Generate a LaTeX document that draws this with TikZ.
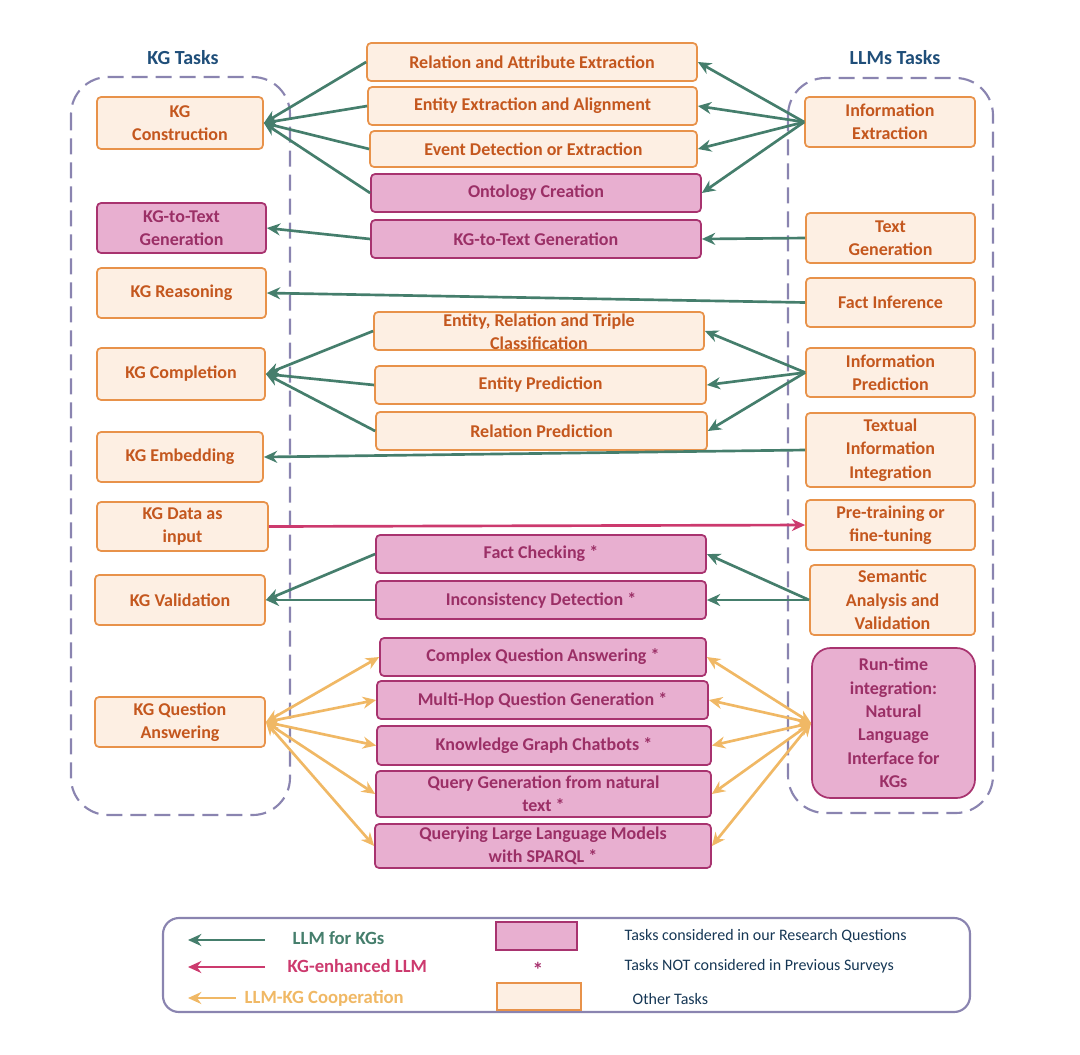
\documentclass[tikz,border=0pt]{standalone}
\usepackage{fontspec}
\setmainfont{Carlito}
\usetikzlibrary{arrows.meta}
\definecolor{oB}{HTML}{E8924A}
\definecolor{oF}{HTML}{FDEFE3}
\definecolor{oT}{HTML}{C4571E}
\definecolor{pB}{HTML}{A8336F}
\definecolor{pF}{HTML}{E8AFD0}
\definecolor{pT}{HTML}{9B2F66}
\definecolor{gA}{HTML}{457E6C}
\definecolor{mA}{HTML}{CC3A6E}
\definecolor{yA}{HTML}{F0B865}
\definecolor{dash}{HTML}{8A84B0}
\definecolor{ttl}{HTML}{1F4E79}
\begin{document}
\begin{tikzpicture}[x=0.75pt,y=-0.75pt,
 font=\fontsize{13.5}{17.5}\selectfont\bfseries,
 ob/.style={draw=oB,fill=oF,line width=1.3pt,rounded corners=3pt,text=oT,align=center,inner sep=0pt},
 pb/.style={draw=pB,fill=pF,line width=1.3pt,rounded corners=3pt,text=pT,align=center,inner sep=0pt},
 tip/.style={Stealth[length=10pt,width=9pt]},
 ga/.style={draw=gA,line width=2pt,-{Stealth[length=10pt,width=9pt]}},
 ma/.style={draw=mA,line width=2pt,-{Stealth[length=10pt,width=9pt]}},
 ya/.style={draw=yA,line width=2pt,{Stealth[length=10pt,width=9pt]}-{Stealth[length=10pt,width=9pt]}},
 dbox/.style={draw=dash,line width=1.6pt,dash pattern=on 12pt off 6pt,rounded corners=28pt}]
\useasboundingbox (0,0) rectangle (1080,1054);
\newcommand\bxt[7]{\node[#1,minimum width={(#4-#2)*0.75pt},minimum height={(#5-#3)*0.75pt}] (#6) at ({(#2+#4)/2},{(#3+#5)/2}) {#7};}
% dashed containers
\draw[dbox] (71,77) rectangle (290,815);
\draw[dbox] (788,78) rectangle (993,813);
\node[text=ttl,font=\fontsize{15}{17}\selectfont\bfseries] (t1) at (183,58) {KG Tasks};
\node[text=ttl,font=\fontsize{15}{17}\selectfont\bfseries] (t2) at (895,58) {LLMs Tasks};
% middle
\bxt{ob}{367}{43}{697}{81}{m1}{Relation and Attribute Extraction}
\bxt{ob}{368}{87}{697}{125}{m2}{Entity Extraction and Alignment}
\bxt{ob}{370}{131}{697}{167}{m3}{Event Detection or Extraction}
\bxt{pb}{371}{174}{701}{212}{m4}{Ontology Creation}
\bxt{pb}{371}{220}{701}{258}{m5}{KG-to-Text Generation}
\bxt{ob}{374}{312}{704}{350}{m6}{}
\node[text=oT,align=center] (m6t) at (539,332) {Entity, Relation and Triple\\Classification};
\bxt{ob}{375}{366}{706}{404}{m7}{Entity Prediction}
\bxt{ob}{376}{412}{707}{450}{m8}{Relation Prediction}
\bxt{pb}{376}{535}{706}{573}{m9}{Fact Checking *}
\bxt{pb}{376}{581}{706}{619}{m10}{Inconsistency Detection *}
\bxt{pb}{380}{638}{706}{676}{q1}{Complex Question Answering *}
\bxt{pb}{377}{681}{708}{719}{q2}{Multi-Hop Question Generation *}
\bxt{pb}{377}{726}{711}{765}{q3}{Knowledge Graph Chatbots *}
\bxt{pb}{376}{771}{711}{817}{q4}{Query Generation from natural\\text *}
\bxt{pb}{375}{824}{711}{868}{q5}{Querying Large Language Models\\with SPARQL *}
% left
\bxt{ob}{97}{97}{263}{149}{l1}{KG\\Construction}
\bxt{pb}{97}{203}{266}{253}{l2}{KG-to-Text\\Generation}
\bxt{ob}{97}{268}{266}{318}{l3}{KG Reasoning}
\bxt{ob}{97}{348}{265}{400}{l4}{KG Completion}
\bxt{ob}{97}{432}{263}{482}{l5}{KG Embedding}
\bxt{ob}{97}{502}{268}{551}{l6}{KG Data as\\input}
\bxt{ob}{95}{575}{265}{625}{l7}{KG Validation}
\bxt{ob}{95}{697}{265}{747}{l8}{KG Question\\Answering}
% right
\bxt{ob}{805}{97}{975}{147}{r1}{Information\\Extraction}
\bxt{ob}{806}{213}{975}{263}{r2}{Text\\Generation}
\bxt{ob}{806}{278}{975}{327}{r3}{Fact Inference}
\bxt{ob}{806}{348}{975}{397}{r4}{Information\\Prediction}
\bxt{ob}{806}{413}{975}{487}{r5}{Textual\\Information\\Integration}
\bxt{ob}{806}{500}{975}{550}{r6}{Pre-training or\\fine-tuning}
\bxt{ob}{810}{565}{975}{635}{r7}{Semantic\\Analysis and\\Validation}
\node[pb,rounded corners=14pt,minimum width={163*0.75pt},minimum height={150*0.75pt}] (r8) at (893.5,723) {Run-time\\integration:\\Natural\\Language\\Interface for\\KGs};
% green arrows
\foreach \m in {m1,m2,m3,m4}{\draw[ga] (r1.west) -- (\m.east); \draw[ga] (\m.west) -- (l1.east);}
\draw[ga] (r2.west) -- (m5.east); \draw[ga] (m5.west) -- (l2.east);
\draw[ga] (r3.west) -- (l3.east);
\foreach \m in {m6,m7,m8}{\draw[ga] (r4.west) -- (\m.east); \draw[ga] (\m.west) -- (l4.east);}
\draw[ga] (r5.west) -- (l5.east);
\draw[ma] (l6.east) -- (r6.west);
\foreach \m in {m9,m10}{\draw[ga] (r7.west) -- (\m.east); \draw[ga] (\m.west) -- (l7.east);}
\foreach \m in {q1,q2,q3,q4,q5}{\draw[ya] (l8.east) -- (\m.west); \draw[ya] (\m.east) -- (r8.west);}
% legend
\draw[draw=dash,line width=1.6pt,rounded corners=12pt] (163,918) rectangle (970,1012);
\coordinate (a1s) at (265,940); \coordinate (a1e) at (188,940);
\coordinate (a2s) at (265,967); \coordinate (a2e) at (188,967);
\coordinate (a3s) at (236,998); \coordinate (a3e) at (188,998);
\draw[ga] (a1s) -- (a1e);
\draw[ma] (a2s) -- (a2e);
\draw[draw=yA,line width=2pt,-{Stealth[length=10pt,width=9pt]}] (a3s) -- (a3e);
\node[text=gA,anchor=west,font=\fontsize{14}{16}\selectfont\bfseries] (lg1) at (288,938) {LLM for KGs};
\node[text=mA,anchor=west,font=\fontsize{14}{16}\selectfont\bfseries] (lg2) at (283,966) {KG-enhanced LLM};
\node[text=yA,anchor=west,font=\fontsize{14}{16}\selectfont\bfseries] (lg3) at (240,998) {LLM-KG Cooperation};
\node[draw=pB,fill=pF,line width=1.3pt,minimum width={81*0.75pt},minimum height={28*0.75pt},inner sep=0pt] (lp) at (536.5,936) {};
\node[text=pB,font=\fontsize{16}{18}\selectfont\bfseries] (ls) at (538,970) {*};
\node[draw=oB,fill=oF,line width=1.3pt,minimum width={84*0.75pt},minimum height={27*0.75pt},inner sep=0pt] (lo) at (539,996.5) {};
\node[anchor=west,font=\fontsize{12}{14}\selectfont,text=ttl!70!black] (lt1) at (620,936) {Tasks considered in our Research Questions};
\node[anchor=west,font=\fontsize{12}{14}\selectfont,text=ttl!70!black] (lt2) at (620,966) {Tasks NOT considered in Previous Surveys};
\node[anchor=west,font=\fontsize{12}{14}\selectfont,text=ttl!70!black] (lt3) at (628,999) {Other Tasks};
\end{tikzpicture}
\end{document}
